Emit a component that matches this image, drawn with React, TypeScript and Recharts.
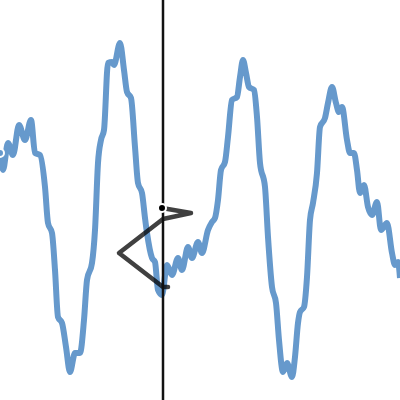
import { LineChart, Line, XAxis, YAxis, ReferenceLine } from "recharts";

// blue signal, x position and height
const signalX = [
  0, 3, 8, 13, 19, 25, 31, 35, 40, 45, 48, 52, 55, 58, 62, 66, 70, 75, 80, 84,
  87, 92, 95, 98, 101, 104, 108, 112, 114, 120, 124, 127, 131, 135, 138, 142,
  145, 147, 152, 155, 158, 162, 167, 172, 178, 182, 188, 192, 198, 202, 208,
  212, 215, 218, 221, 225, 228, 232, 237, 240, 243, 246, 249, 254, 257, 260,
  265, 268, 272, 276, 279, 283, 287, 292, 295, 298, 300, 304, 307, 310, 313,
  317, 320, 325, 328, 332, 336, 339, 342, 347, 350, 354, 357, 360, 364, 368,
  372, 377, 381, 387, 392, 395, 398, 400,
];
const signalY = [
  247, 230, 257, 245, 275, 260, 280, 247, 245, 213, 177, 167, 130, 83, 77, 53,
  28, 47, 47, 80, 120, 137, 170, 237, 260, 270, 337, 338, 335, 357, 330, 308,
  302, 253, 217, 207, 182, 167, 142, 138, 110, 105, 135, 125, 142, 130, 153,
  142, 158, 147, 170, 178, 182, 200, 230, 238, 263, 300, 303, 323, 340, 327,
  313, 310, 283, 237, 213, 163, 113, 97, 60, 28, 37, 23, 43, 77, 88, 93, 123,
  180, 197, 227, 273, 282, 297, 313, 297, 288, 293, 260, 247, 247, 230, 207,
  215, 193, 185, 198, 170, 177, 147, 135, 138, 122,
];

// dark trace, drawn in order
const traceX = [162, 191, 163, 119, 163, 168];
const traceY = [192, 187, 181, 147, 113, 113];

const markerX = 163;

const signal = signalX.map((x, i) => ({ x, y: signalY[i] }));
const trace = traceX.map((x, i) => ({ x, y: traceY[i] }));

export default function App() {
  return (
    <div
      style={{
        position: "absolute",
        left: 0,
        top: 0,
        width: 400,
        height: 400,
        background: "#fff",
      }}
    >
      <LineChart width={400} height={400} margin={{ top: 0, right: 0, bottom: 0, left: 0 }}>
        <XAxis type="number" dataKey="x" domain={[0, 400]} hide allowDataOverflow />
        <YAxis type="number" dataKey="y" domain={[0, 400]} hide allowDataOverflow />
        <Line
          data={signal}
          dataKey="y"
          type="monotone"
          stroke="#6699cc"
          strokeWidth={6}
          dot={false}
          isAnimationActive={false}
        />
        <Line
          data={trace}
          dataKey="y"
          type="linear"
          stroke="#000"
          strokeOpacity={0.75}
          strokeWidth={4.5}
          strokeLinejoin="round"
          strokeLinecap="round"
          dot={false}
          isAnimationActive={false}
        />
        <ReferenceLine x={markerX} stroke="#111" strokeWidth={2.5} />
      </LineChart>
    </div>
  );
}
